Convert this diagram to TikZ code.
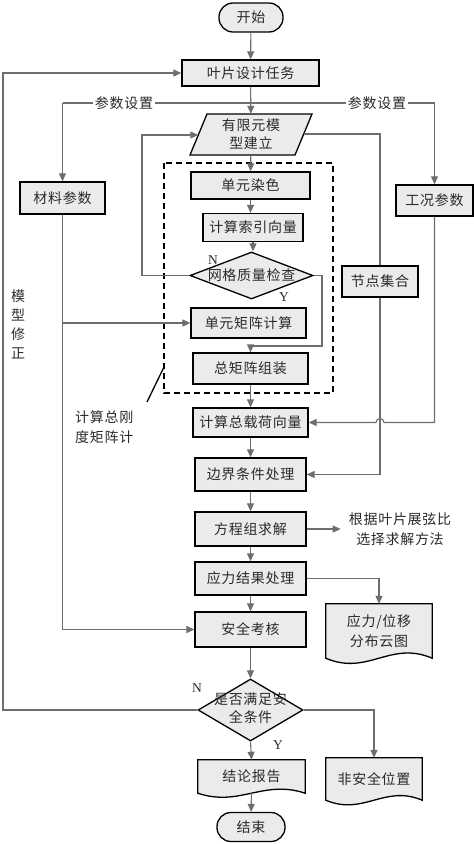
\documentclass[tikz,border=0pt]{standalone}
\usepackage{fontspec}
\setmainfont{Liberation Serif}
\newfontfamily\cjk[LetterSpace=5]{Noto Sans CJK SC}
\usetikzlibrary{shapes.geometric,arrows.meta,backgrounds}
\definecolor{boxfill}{HTML}{EBEBEB}
\definecolor{linegray}{HTML}{6E6E6E}
\definecolor{txt}{HTML}{2A2A2A}
\begin{document}
\begin{tikzpicture}[x=1pt,y=-1pt,
 base/.style={font=\cjk\fontsize{14}{18}\selectfont, text=txt, inner sep=0pt},
 proc/.style={base, rectangle, draw=black, line width=1.3pt, fill=boxfill},
 term/.style={proc, rounded corners=14pt},
 dec/.style={base, diamond, draw=black, line width=1.3pt, fill=boxfill},
 ghost/.style={base, rectangle},
 shapeline/.style={draw=black, line width=1.3pt, fill=boxfill},
 conn/.style={draw=linegray, line width=1.1pt},
 arr/.style={conn, -{Triangle[width=7pt,length=8pt]}},
 lbl/.style={base},
 yn/.style={font=\fontsize{13.5}{13.5}\selectfont, text=txt, inner sep=0pt},
]
\useasboundingbox (0,0) rectangle (474,844);

% dashed group
\draw[black, line width=1.2pt, dash pattern=on 6pt off 4pt] (164,163) rectangle (333,393);

% nodes
\node[term, minimum width=64pt, minimum height=29pt] (start) at (251,17.5) {开始};
\node[proc, minimum width=137pt, minimum height=26pt] (task) at (250.5,73) {叶片设计任务};
\node[proc, minimum width=85pt, minimum height=32pt] (mat) at (62.5,198) {材料参数};
\node[proc, minimum width=77pt, minimum height=31pt] (gk) at (434.5,200.5) {工况参数};
\node[ghost, minimum width=105pt, minimum height=41pt, align=center] (model) at (251,134.5) {有限元模\\型建立};
\node[proc, minimum width=119pt, minimum height=27pt] (ys) at (250.5,185.5) {单元染色};
\node[proc, minimum width=100pt, minimum height=28pt] (sy) at (253,227.5) {计算索引向量};
\node[dec, minimum width=123pt, minimum height=47pt] (dia1) at (251.5,275.5) {\makebox[0pt]{网格质量检查}};
\node[proc, minimum width=115pt, minimum height=30pt] (dy) at (248.5,323) {单元矩阵计算};
\node[proc, minimum width=115pt, minimum height=31pt] (zz) at (250.5,368.5) {总矩阵组装};
\node[proc, minimum width=115pt, minimum height=29pt] (zh) at (250.5,422.5) {计算总载荷向量};
\node[proc, minimum width=76pt, minimum height=31pt] (jd) at (380,281.5) {节点集合};
\node[proc, minimum width=111pt, minimum height=33pt] (bj) at (250.5,474.5) {边界条件处理};
\node[proc, minimum width=111pt, minimum height=34pt] (fc) at (250.5,529) {方程组求解};
\node[proc, minimum width=111pt, minimum height=33pt] (yl) at (250.5,578.5) {应力结果处理};
\node[proc, minimum width=111pt, minimum height=35pt] (aq) at (250.5,629.5) {安全考核};
\node[dec, minimum width=105pt, minimum height=62pt] (dia2) at (250.5,710) {\makebox[0pt]{\begin{tabular}{@{}c@{}}是否满足安\\[0pt]全条件\end{tabular}}};
\node[ghost, minimum width=106pt, minimum height=54pt, align=center, font=\cjk\fontsize{14}{20}\selectfont] (doc1) at (379,631) {应力/位移\\分布云图};
\node[ghost, minimum width=107pt, minimum height=33pt] (jl) at (251.5,776.5) {结论报告};
\node[ghost, minimum width=96pt, minimum height=42pt] (unsafe) at (374,779) {非安全位置};
\node[term, minimum width=68pt, minimum height=29pt] (end) at (251,827) {结束};

% background shapes
\begin{scope}[on background layer]
\draw[shapeline] (207,114) -- (312,114) -- (295,155) -- (190,155) -- cycle;
\draw[shapeline] (doc1.north west) -- (doc1.north east) -- (doc1.south east)
  .. controls +(-42,-18) and +(42,18) .. (doc1.south west) -- cycle;
\draw[shapeline] (jl.north west) -- (jl.north east) -- (jl.south east)
  .. controls +(-42,-14) and +(42,14) .. (jl.south west) -- cycle;
\draw[shapeline] (unsafe.north west) -- (unsafe.north east) -- (unsafe.south east)
  .. controls +(-38,-16) and +(38,16) .. (unsafe.south west) -- cycle;
\end{scope}

% coordinates
\coordinate (mL) at (198.3,135);
\coordinate (mR) at (303.7,134);
\coordinate (pL) at (62.5,103);
\coordinate (pR) at (434.5,103);
\coordinate (nl) at (142,200);
\coordinate (ye) at (322,346);
\coordinate (fb) at (3,400);
\coordinate (hopR) at (384,422.5);

% connectors
\draw[arr] (start) -- (task);
\draw[arr] (task) -- (model);
\draw[conn] (pL) -- (pR);
\draw[arr] (pL) -- (mat.north);
\draw[arr] (pR) -- (gk.north);
\node[lbl, fill=white, inner sep=2pt] (ps1) at (124,103) {参数设置};
\node[lbl, fill=white, inner sep=2pt] (ps2) at (377,103) {参数设置};
\draw[arr] (model) -- (ys);
\draw[arr] (ys) -- (ys |- sy.north);
\draw[arr] (sy.south) -- (sy.south |- dia1.north);
\draw[arr] (dia1.west) -| (nl) |- (mL);
\draw[arr] (dia1.east) -| (ye) -| (zz.north);
\draw[arr] (zz) -- (zh);
\draw[conn] (mR) -| (jd.north);
\draw[arr] (jd.south) |- (bj.east);
\draw[arr] (gk.south) |- (hopR) arc[start angle=0, end angle=-180, radius=4] -- (zh.east);
\draw[arr] (zh) -- (bj);
\draw[arr] (bj) -- (fc);
\draw[arr] (fc) -- (yl);
\draw[arr] (yl) -- (aq);
\draw[arr] (aq) -- (dia2);
\node[lbl, align=center, font=\cjk\fontsize{14}{20}\selectfont] (sol) at (400,529) {根据叶片展弦比\\选择求解方法};
\draw[arr, shorten >=8pt] (fc.east) -- (sol.west);
\draw[arr] (yl.east) -| (doc1.north);
\draw[arr] (mat.south) |- (aq.west);
\draw[arr] (mat.south |- dy.west) -- (dy.west);
\draw[arr] (dia2.west) -| (fb) |- (task.west);
\draw[arr] (dia2.east) -| (unsafe.north);
\draw[arr] (dia2.south) -- (jl.north);
\draw[arr] (jl.south) -- (end.north);

% labels
\node[yn] (n1) at (213,260) {N};
\node[yn] (y1) at (284,297) {Y};
\node[yn] (n2) at (197,688) {N};
\node[yn] (y2) at (278,745) {Y};
\node[lbl, align=center, font=\cjk\fontsize{14}{19}\selectfont] (mx) at (18,324) {模\\型\\修\\正};
\node[lbl, anchor=west, align=left, font=\cjk\fontsize{14}{20}\selectfont] (zg) at (75,427) {计算总刚\\度矩阵计};
\coordinate (s1) at (164,367);
\coordinate (s2) at (147,402);
\draw[black, line width=1.3pt] (s1) -- (s2);
\end{tikzpicture}
\end{document}
